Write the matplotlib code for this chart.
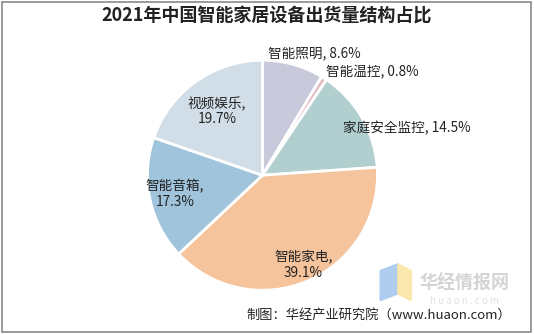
import numpy as np
import matplotlib.pyplot as plt
from matplotlib.patches import Rectangle, Polygon

plt.rcParams['font.family'] = ['Noto Sans CJK SC', 'DejaVu Sans']

# data
categories = ['智能照明', '智能温控', '家庭安全监控', '智能家电', '智能音箱', '视频娱乐']
shares = [8.6, 0.8, 14.5, 39.1, 17.3, 19.7]
colors = ['#c9c9dc', '#e3b9c2', '#b2cfcf', '#f5c39c', '#9fc4dc', '#d1dee7']
# label placement: radius factor, angle offset (deg) from wedge middle, one line?, alignment
label_r = [1.06, 1.05, 0.81, 0.86, 0.78, 0.68]
label_dang = [12.8, 0.7, 0.3, 1.0, 0.0, 0.0]
label_oneline = [True, True, True, False, False, False]
label_ha = ['left', 'left', 'left', 'center', 'center', 'center']

fig = plt.figure(figsize=(5.34, 3.34), dpi=100)
ax = fig.add_axes([0.276, 0.131, 0.431, 0.6886])

wedges, _ = ax.pie(shares, colors=colors, startangle=90, counterclock=False,
                   wedgeprops=dict(edgecolor='white', linewidth=2))
ax.set_aspect('equal')
ax.set_xlim(-1, 1)
ax.set_ylim(-1, 1)

for i, w in enumerate(wedges):
    mid = np.deg2rad((w.theta1 + w.theta2) / 2 + label_dang[i])
    x, y = label_r[i] * np.cos(mid), label_r[i] * np.sin(mid)
    sep = ', ' if label_oneline[i] else ',\n'
    ax.text(x, y, f'{categories[i]}{sep}{shares[i]}%', ha=label_ha[i], va='center',
            fontsize=9.8, color='#222222', linespacing=1.1, clip_on=False)

fig.text(0.5, 0.952, '2021年中国智能家居设备出货量结构占比', ha='center', va='center',
         fontsize=13, fontweight='bold', color='#222222')
fig.text(0.958, 0.057, '制图：华经产业研究院（www.huaon.com）', ha='right', va='center',
         fontsize=9.5, color='#222222')

# watermark
fig.text(0.87, 0.153, '华经情报网', ha='center', va='center', fontsize=13,
         fontweight='bold', color='#d4d4d4')
fig.text(0.87, 0.098, 'h u a o n . c o m', ha='center', va='center', fontsize=7,
         color='#e2e2e2')
fig.patches.append(Polygon([[0.712, 0.10], [0.745, 0.12], [0.745, 0.21], [0.712, 0.19]],
                           closed=True, transform=fig.transFigure, color='#a8c8ee', alpha=0.9))
fig.patches.append(Polygon([[0.745, 0.12], [0.770, 0.10], [0.770, 0.19], [0.745, 0.21]],
                           closed=True, transform=fig.transFigure, color='#fbe6a6', alpha=0.9))

# frame
fig.patches.append(Rectangle((0.004, 0.006), 0.991, 0.988, transform=fig.transFigure,
                             fill=False, edgecolor='#8a8a8a', linewidth=1.2))

fig.savefig('out.png', dpi=100)
